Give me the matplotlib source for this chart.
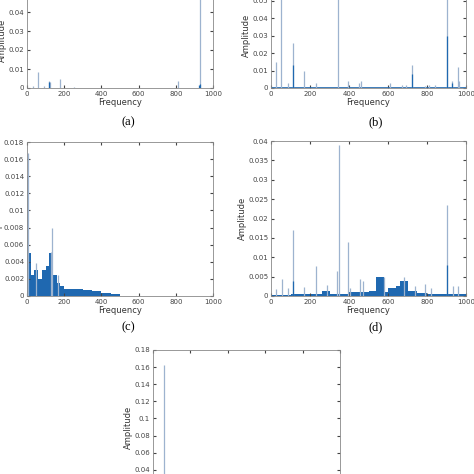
import matplotlib
matplotlib.use("Agg")
import matplotlib.pyplot as plt
import numpy as np

# ---- data ----
a_peak_f = [30, 60, 90, 120, 125, 180, 250, 810, 930]
a_peak_a = [0.0010, 0.0083, 0.0008, 0.0035, 0.0030, 0.0045, 0.0005, 0.0037, 0.050]
a_dark_f = [120, 925, 930]
a_dark_a = [0.0030, 0.0015, 0.0020]

b_peak_f = [25, 50, 85, 115, 170, 230, 345, 395, 450, 460, 610, 670, 690, 725, 790, 810, 840, 900, 930, 960, 965]
b_peak_a = [0.015, 0.060, 0.003, 0.026, 0.0095, 0.003, 0.060, 0.004, 0.003, 0.004, 0.003, 0.002, 0.0015,
            0.013, 0.001, 0.002, 0.002, 0.060, 0.004, 0.012, 0.004]
b_dark_f = [115, 725, 900, 930]
b_dark_a = [0.013, 0.008, 0.030, 0.003]

c_env_f = [0, 20, 40, 60, 80, 100, 120, 140, 160, 180, 200, 220, 300, 350, 400, 450, 500, 550, 1000]
c_env_a = [0.0050, 0.0025, 0.0030, 0.0020, 0.0030, 0.0035, 0.0050, 0.0025, 0.0015, 0.0012, 0.0008,
           0.0008, 0.0007, 0.0006, 0.0003, 0.0002, 0.00005, 0.0, 0.0]
c_peak_f = [2, 5, 50, 130, 135, 165]
c_peak_a = [0.014, 0.0167, 0.0038, 0.0052, 0.0080, 0.0025]

d_env_f = [0, 100, 240, 260, 300, 400, 500, 540, 580, 600, 640, 660, 700, 750, 800, 850, 1000]
d_env_a = [0.0003, 0.0005, 0.0004, 0.0012, 0.0006, 0.0010, 0.0012, 0.0048, 0.0010, 0.0020, 0.0025,
           0.0038, 0.0012, 0.0008, 0.0005, 0.0004, 0.0004]
d_peak_f = [25, 55, 85, 115, 170, 230, 285, 340, 347, 395, 405, 455, 470, 580, 680, 740, 790, 820, 905, 935, 960]
d_peak_a = [0.0018, 0.0045, 0.002, 0.017, 0.0022, 0.0078, 0.0028, 0.0065, 0.039, 0.014, 0.002, 0.0045,
            0.004, 0.005, 0.005, 0.0025, 0.003, 0.002, 0.0235, 0.0025, 0.0027]
d_dark_f = [115, 905]
d_dark_a = [0.004, 0.008]

e_peak_f = [58]
e_peak_a = [0.162]

LIGHT = "#9db3cf"
DARK = "#1f68b0"

W = H = 474.0
fig = plt.figure(figsize=(4.74, 4.74), dpi=100)


def make_ax(x0, x1, ytop, ybot, ylim, yticks, ylabels):
    ax = fig.add_axes([x0 / W, 1 - ybot / H, (x1 - x0) / W, (ybot - ytop) / H])
    ax.set_xlim(0, 1000)
    ax.set_ylim(0, ylim)
    ax.set_xticks([0, 200, 400, 600, 800, 1000])
    ax.set_yticks(yticks)
    ax.set_yticklabels(ylabels)
    ax.tick_params(direction="in", top=True, right=True, labelsize=5, length=2,
                   colors="#444444", pad=2)
    for s in ax.spines.values():
        s.set_color("#888888")
        s.set_linewidth(0.6)
    ax.set_xlabel("Frequency", fontsize=6, labelpad=1, color="#333333")
    ax.set_ylabel("Amplitude", fontsize=6, labelpad=1, color="#333333")
    return ax


def peaks(ax, f, a, color, lw=0.9):
    ax.vlines(f, 0, a, color=color, lw=lw)


def env(ax, f, a):
    ax.fill_between(f, 0, a, step="post", color=DARK, lw=0)


# (a)
ax = make_ax(27, 213, 88 - 0.05 * 1900, 88, 0.05, [0, 0.01, 0.02, 0.03, 0.04],
             ["0", "0.01", "0.02", "0.03", "0.04"])
ax.axhline(0.0002, color=DARK, lw=0.6)
peaks(ax, a_peak_f, a_peak_a, LIGHT)
peaks(ax, a_dark_f, a_dark_a, DARK)

# (b)
ax = make_ax(271, 466, 88 - 0.06 * 1740, 88, 0.06, [0, 0.01, 0.02, 0.03, 0.04, 0.05],
             ["0", "0.01", "0.02", "0.03", "0.04", "0.05"])
ax.axhline(0.0003, color=DARK, lw=0.6)
peaks(ax, b_peak_f, b_peak_a, LIGHT)
peaks(ax, b_dark_f, b_dark_a, DARK)

# (c)
cy = [0, 0.002, 0.004, 0.006, 0.008, 0.01, 0.012, 0.014, 0.016, 0.018]
ax = make_ax(27, 213, 142, 296, 0.018, cy, ["0"] + [f"{v:g}" for v in cy[1:]])
peaks(ax, c_peak_f, c_peak_a, LIGHT)
env(ax, c_env_f, c_env_a)

# (d)
dy = [0, 0.005, 0.01, 0.015, 0.02, 0.025, 0.03, 0.035, 0.04]
ax = make_ax(271, 466, 141, 296, 0.04, dy, ["0"] + [f"{v:g}" for v in dy[1:]])
peaks(ax, d_peak_f, d_peak_a, LIGHT)
env(ax, d_env_f, d_env_a)
peaks(ax, d_dark_f, d_dark_a, DARK)

# (e)
ey = [0, 0.02, 0.04, 0.06, 0.08, 0.1, 0.12, 0.14, 0.16, 0.18]
ax = make_ax(153, 340, 350, 504, 0.18, ey, ["0"] + [f"{v:g}" for v in ey[1:]])
peaks(ax, e_peak_f, e_peak_a, LIGHT)

for lab, x, y in [("(a)", 128, 122), ("(b)", 376, 122), ("(c)", 128, 327), ("(d)", 376, 327)]:
    fig.text(x / W, 1 - y / H, lab, ha="center", va="center", fontsize=9,
             family="Liberation Serif")

fig.savefig("out.png", dpi=100)
